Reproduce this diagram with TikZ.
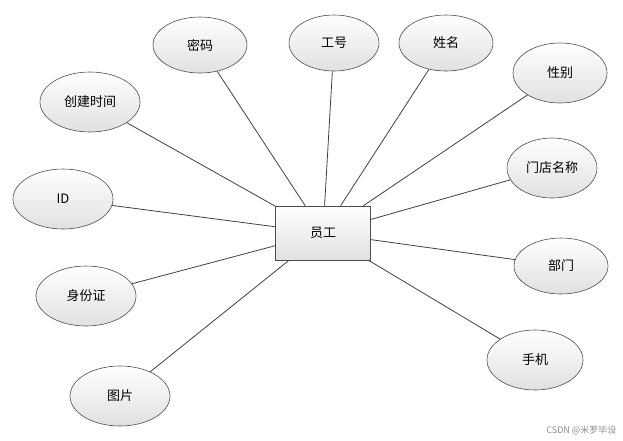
\documentclass[tikz,border=0pt]{standalone}
\usepackage{fontspec}
\setmainfont{Noto Sans CJK SC}
\usetikzlibrary{shapes.geometric}
\begin{document}
\begin{tikzpicture}[x=1pt,y=-1pt,
  attr/.style={ellipse,draw=black!70,line width=0.6pt,top color=white,bottom color=black!12,inner sep=0pt,font=\fontsize{13}{15}\selectfont},
  ent/.style={rectangle,draw=black!70,line width=0.6pt,top color=white,bottom color=black!12,minimum width=95pt,minimum height=54pt,font=\fontsize{13}{15}\selectfont},
  link/.style={draw=black!75,line width=0.8pt}]
\useasboundingbox (0,0) rectangle (623,440);
\node[ent] (e) at (323,233) {员工};
\foreach \n/\x/\y/\w/\h/\t in {
  mm/200/45/94/56/密码, gh/334/43/90/56/工号, xm/446/43/94/56/姓名,
  xb/560/73/94/60/性别, cj/90/102/100/60/创建时间, md/552/168/90/60/门店名称,
  id/63/199/100/60/ID, bm/561/266/94/56/部门, sf/86/296/100/60/身份证,
  sj/535/360/96/60/手机, tp/120/396/100/60/图片}{
  \node[attr,minimum width=\w pt,minimum height=\h pt] (\n) at (\x,\y) {\t};
  \draw[link] (\n) -- (e);
}
\node[text=black!45,font=\fontsize{9}{10}\selectfont,anchor=east] (wm) at (620,430) {CSDN @米罗毕设};
\end{tikzpicture}
\end{document}
